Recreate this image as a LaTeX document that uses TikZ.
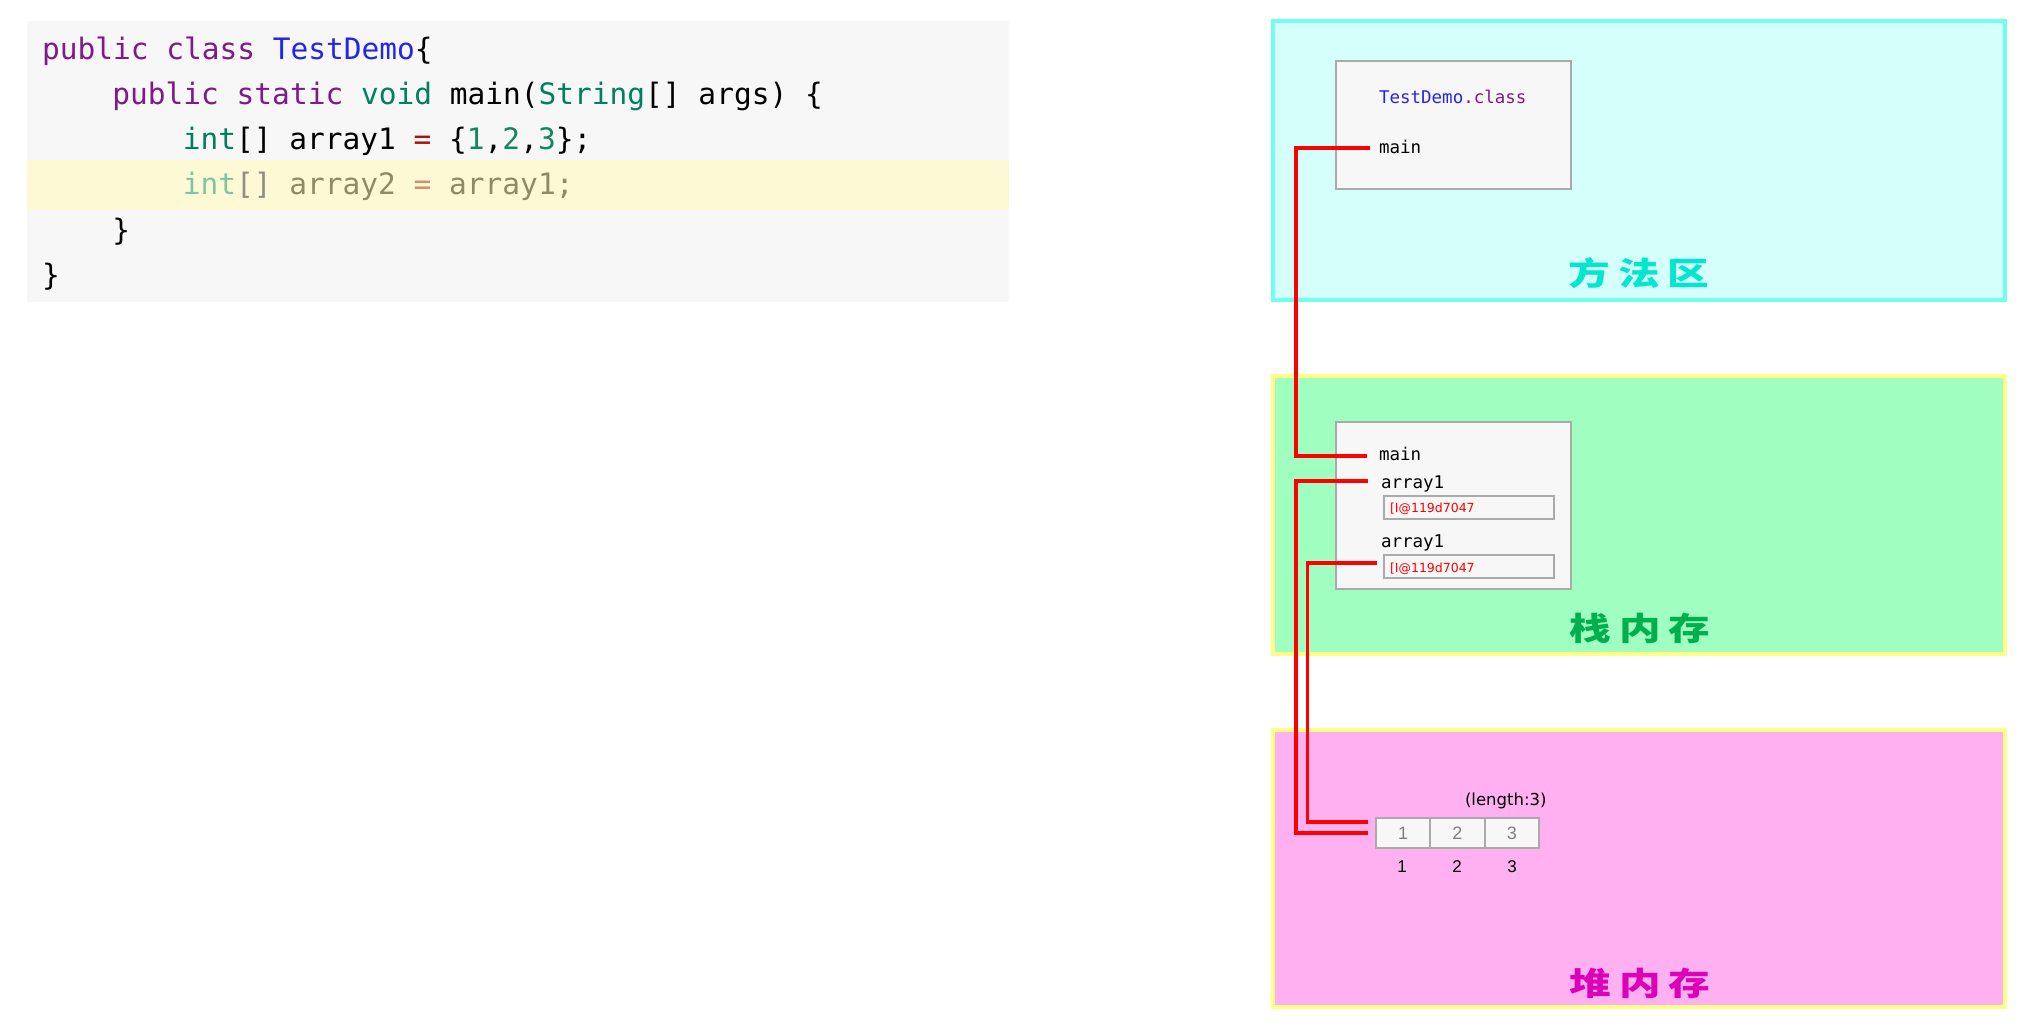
\documentclass[tikz,border=0pt]{standalone}
\usepackage{fontspec}
\newfontfamily\codefont{DejaVu Sans Mono}
\newfontfamily\labfont{DejaVu Sans}
\newfontfamily\numfont{Liberation Sans}
\newfontfamily\cjkfont{Noto Sans CJK SC}
\definecolor{codeBg}{HTML}{F7F7F7}
\definecolor{hlBg}{HTML}{FDF9D4}
\definecolor{kw}{HTML}{7F1A8A}
\definecolor{cls}{HTML}{2525E6}
\definecolor{ty}{HTML}{00805F}
\definecolor{num}{HTML}{13875F}
\definecolor{op}{HTML}{A31515}
\definecolor{fint}{HTML}{80C4A6}
\definecolor{fgr}{HTML}{8E8E82}
\definecolor{fvar}{HTML}{8C8C68}
\definecolor{fop}{HTML}{D38E6A}
\definecolor{cyanB}{HTML}{70FFEE}
\definecolor{cyanF}{HTML}{D5FFFA}
\definecolor{yelB}{HTML}{FFFF88}
\definecolor{greenF}{HTML}{A0FFC0}
\definecolor{pinkF}{HTML}{FFB0F0}
\definecolor{cyanT}{HTML}{00E6CF}
\definecolor{greenT}{HTML}{00B04E}
\definecolor{pinkT}{HTML}{DD00B8}
\definecolor{frameGray}{HTML}{AAAAAA}
\definecolor{frameFill}{HTML}{F7F7F7}
\definecolor{cellNum}{HTML}{808080}
\tikzset{
  codeline/.style={anchor=base west, inner sep=0pt, outer sep=0pt,
    font=\codefont\fontsize{29.5}{34}\selectfont},
  region/.style={draw, line width=4pt, anchor=north west, outer sep=0pt, inner sep=0pt},
  framebox/.style={draw=frameGray, fill=frameFill, line width=2pt, anchor=north west,
    outer sep=0pt, inner sep=0pt},
  celltext/.style={framebox, text=cellNum, font=\numfont\fontsize{18}{20}\selectfont,
    minimum width=54.3pt, minimum height=30pt},
  vartext/.style={anchor=base west, inner sep=0pt, outer sep=0pt,
    font=\codefont\fontsize{17.5}{20}\selectfont},
  reftext/.style={anchor=base west, inner sep=0pt, outer sep=0pt, text=red,
    font=\labfont\fontsize{12.5}{14}\selectfont},
  idxtext/.style={anchor=base, inner sep=0pt, outer sep=0pt,
    font=\numfont\fontsize{17}{19}\selectfont},
  areatitle/.style={inner sep=0pt, outer sep=0pt,
    font=\cjkfont\bfseries\fontsize{32}{35}\selectfont},
  refline/.style={draw=red, line width=3.3pt}
}
\begin{document}
\begin{tikzpicture}[x=1pt,y=-1pt]
\useasboundingbox (0,0) rectangle (2017,1023);
% code panel
\node[anchor=north west, fill=codeBg, inner sep=0pt, outer sep=0pt,
  minimum width=982pt, minimum height=281pt] (codebg) at (27,21) {};
\node[anchor=north west, fill=hlBg, inner sep=0pt, outer sep=0pt,
  minimum width=982pt, minimum height=50pt] (hl) at (27,160) {};
\node[codeline] (l1) at (42,59) {\textcolor{kw}{public} \textcolor{kw}{class} \textcolor{cls}{TestDemo}\{};
\node[codeline] (l2) at (112.4,104.3) {\textcolor{kw}{public} \textcolor{kw}{static} \textcolor{ty}{void} main(\textcolor{ty}{String}[] args) \{};
\node[codeline] (l3) at (182.8,149.6) {\textcolor{ty}{int}[] array1 \textcolor{op}{=} \{\textcolor{num}{1},\textcolor{num}{2},\textcolor{num}{3}\};};
\node[codeline] (l4) at (182.8,194.9) {\textcolor{fint}{int}\textcolor{fgr}{[]} \textcolor{fvar}{array2} \textcolor{fop}{=} \textcolor{fvar}{array1;}};
\node[codeline] (l5) at (112.4,240.2) {\}};
\node[codeline] (l6) at (42,285.5) {\}};
% memory regions
\node[region, draw=cyanB, fill=cyanF, minimum width=732pt, minimum height=279pt] (methodArea) at (1273,21) {};
\node[region, draw=yelB, fill=greenF, minimum width=732pt, minimum height=278.5pt] (stackArea) at (1273,375.5) {};
\node[region, draw=yelB, fill=pinkF, minimum width=732pt, minimum height=277pt] (heapArea) at (1273,730) {};
\node[areatitle, text=cyanT] (tMethod) at (1639,273.5) {\scalebox{1.3}[1]{方\kern6pt 法\kern6pt 区}};
\node[areatitle, text=greenT] (tStack) at (1640,628) {\scalebox{1.3}[1]{栈\kern6pt 内\kern6pt 存}};
\node[areatitle, text=pinkT] (tHeap) at (1640,983) {\scalebox{1.3}[1]{堆\kern6pt 内\kern6pt 存}};
% method area content
\node[framebox, minimum width=235pt, minimum height=128pt] (classBox) at (1336,61) {};
\node[vartext] (cname) at (1379,103) {\textcolor{cls}{TestDemo}\textcolor{kw}{.class}};
\node[vartext] (mA) at (1379,153) {main};
% stack content
\node[framebox, minimum width=235pt, minimum height=167pt] (frameBox) at (1336,422) {};
\node[vartext] (mS) at (1379,460) {main};
\node[vartext] (a1) at (1381,488) {array1};
\node[framebox, minimum width=170pt, minimum height=23pt] (v1) at (1384,496) {};
\node[reftext] (r1) at (1390,512) {[I@119d7047};
\node[vartext] (a2) at (1381,547) {array1};
\node[framebox, minimum width=170pt, minimum height=23pt] (v2) at (1384,555) {};
\node[reftext] (r2) at (1390,572) {[I@119d7047};
% heap content
\node[anchor=base west, inner sep=0pt, outer sep=0pt, font=\labfont\fontsize{16.5}{19}\selectfont] (len) at (1465,805) {(length:3)};
\node[celltext] (c1) at (1376,818) {1};
\node[celltext] (c2) at (1430.3,818) {2};
\node[celltext] (c3) at (1484.6,818) {3};
\node[idxtext] (i1) at (1402,872) {1};
\node[idxtext] (i2) at (1457,872) {2};
\node[idxtext] (i3) at (1512,872) {3};
% connectors
\draw[refline] ([xshift=-9pt,yshift=5pt]mA.base west) -- ++(-74pt,0pt) |- ([xshift=-12pt,yshift=4pt]mS.base west);
\draw[refline] ([xshift=-13pt,yshift=7pt]a1.base west) -- ++(-72pt,0pt) |- ([xshift=-8pt]c1.west);
\draw[refline] ([xshift=-7pt,yshift=3.5pt]v2.west) -- ++(-69.5pt,0pt) |- ([xshift=-8pt,yshift=11pt]c1.west);
\end{tikzpicture}
\end{document}
